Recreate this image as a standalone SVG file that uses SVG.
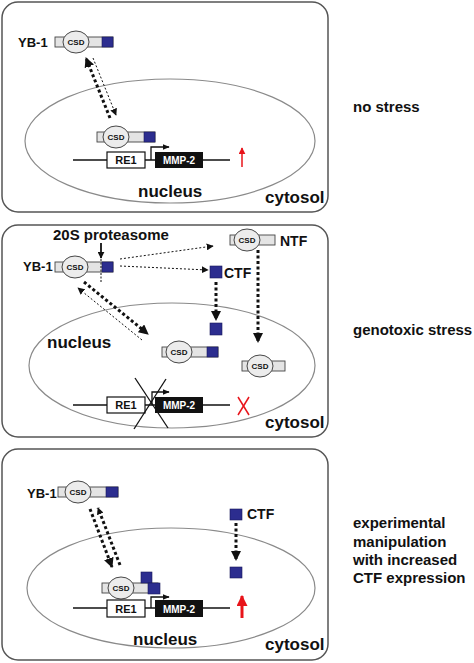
<svg xmlns="http://www.w3.org/2000/svg" width="474" height="663" viewBox="0 0 474 663">
<defs>
<style>
text{font-family:"Liberation Sans",Arial,sans-serif;font-weight:bold;fill:#111}
.panel{fill:#fff;stroke:#555;stroke-width:1.5}
.nuc{fill:none;stroke:#8a8a8a;stroke-width:1.2}
.bar{fill:#e4e4e4;stroke:#444;stroke-width:0.9}
.csd{fill:#ececec;stroke:#333;stroke-width:0.9}
.blue{fill:#2c2d8f;stroke:#1a1a5a;stroke-width:0.6}
.csdt{font-size:8px;text-anchor:middle}
.big{font-size:17px}
.lab{font-size:15px}
.thick{stroke:#111;stroke-width:3;stroke-dasharray:3 2.5;fill:none}
.thin{stroke:#111;stroke-width:1;stroke-dasharray:2 2;fill:none}
.dna{stroke:#111;stroke-width:1.6}
.re1{fill:#fff;stroke:#111;stroke-width:1.2}
.mmp{fill:#111}
.prom{fill:none;stroke:#111;stroke-width:1.3}
</style>
<marker id="hk" viewBox="0 0 10 10" refX="9" refY="5" markerUnits="userSpaceOnUse" markerWidth="10" markerHeight="10" orient="auto"><path d="M0,0L10,5L0,10z" fill="#111"/></marker>
<marker id="hs" viewBox="0 0 10 10" refX="9" refY="5" markerUnits="userSpaceOnUse" markerWidth="7" markerHeight="7" orient="auto"><path d="M0,0L10,5L0,10z" fill="#111"/></marker>
<marker id="hp" viewBox="0 0 10 10" refX="9" refY="5" markerUnits="userSpaceOnUse" markerWidth="7" markerHeight="7" orient="auto"><path d="M0,1L10,5L0,9z" fill="#111"/></marker>
<marker id="hr" viewBox="0 0 10 10" refX="9" refY="5" markerUnits="userSpaceOnUse" markerWidth="7" markerHeight="7" orient="auto"><path d="M0,0L10,5L0,10z" fill="#e8141a"/></marker>
<marker id="hr2" viewBox="0 0 10 10" refX="9" refY="5" markerUnits="userSpaceOnUse" markerWidth="11" markerHeight="11" orient="auto"><path d="M0,0L10,5L0,10z" fill="#e8141a"/></marker>
</defs>

<!-- Panel 1: no stress -->
<g id="panel1">
<rect class="panel" x="2" y="2" width="326" height="210" rx="16"/>
<ellipse id="nucleus1" class="nuc" cx="170" cy="141" rx="145" ry="62"/>
<text class="big" x="138" y="197">nucleus</text>
<text class="big" x="265" y="203">cytosol</text>
<text class="lab" x="353" y="112">no stress</text>
</g>
<g id="yb1-p1">
<text x="18" y="47" font-size="13">YB-1</text>
<rect class="bar" x="55" y="37" width="58" height="10"/>
<rect class="blue" x="102" y="37" width="11" height="10"/>
<ellipse class="csd" cx="76" cy="42" rx="13" ry="11"/>
<text class="csdt" x="76" y="45">CSD</text>
</g>
<g id="yb1-nuc-p1">
<rect class="bar" x="97" y="132" width="58" height="10"/>
<rect class="blue" x="144" y="132" width="11" height="10"/>
<ellipse class="csd" cx="116" cy="137" rx="13" ry="11"/>
<text class="csdt" x="116" y="140">CSD</text>
</g>
<g id="gene-p1">
<line class="dna" x1="73" y1="160" x2="230" y2="160"/>
<rect class="re1" x="107" y="152" width="38" height="16"/>
<text x="126" y="164" font-size="11" text-anchor="middle">RE1</text>
<rect class="mmp" x="155" y="152" width="48" height="16"/>
<text x="179" y="164" font-size="10" text-anchor="middle" style="fill:#fff">MMP-2</text>
<path class="prom" d="M151,160V147H169" marker-end="url(#hp)"/>
</g>
<g id="connectors-p1">
<line class="thick" x1="110" y1="118" x2="86" y2="58" marker-end="url(#hk)"/>
<line class="thin" x1="93" y1="58" x2="116" y2="115" marker-end="url(#hs)"/>
<line x1="242" y1="167" x2="242" y2="148" stroke="#e8141a" stroke-width="1.5" marker-end="url(#hr)"/>
</g>

<!-- Panel 2: genotoxic stress -->
<g id="panel2">
<rect class="panel" x="2" y="225" width="326" height="212" rx="16"/>
<ellipse id="nucleus2" class="nuc" cx="172" cy="365.5" rx="143" ry="62.5"/>
<text class="big" x="47" y="348">nucleus</text>
<text class="big" x="265" y="428">cytosol</text>
<text class="lab" x="353" y="335">genotoxic stress</text>
<text x="53" y="240" font-size="15">20S proteasome</text>
</g>
<g id="yb1-p2">
<text x="23" y="271" font-size="13">YB-1</text>
<rect class="bar" x="55" y="262" width="58" height="10"/>
<rect class="blue" x="102" y="262" width="11" height="10"/>
<ellipse class="csd" cx="75" cy="267" rx="13" ry="11"/>
<text class="csdt" x="75" y="270">CSD</text>
<line x1="101" y1="259" x2="101" y2="283" stroke="#111" stroke-width="1" stroke-dasharray="2 1.5"/>
</g>
<g id="ntf-p2">
<rect class="bar" x="230" y="235" width="45" height="10"/>
<ellipse class="csd" cx="247" cy="240" rx="13" ry="11"/>
<text class="csdt" x="247" y="243">CSD</text>
<text x="280" y="246" font-size="14">NTF</text>
</g>
<g id="ctf-p2">
<rect class="blue" x="210" y="266" width="12" height="12"/>
<text x="224" y="278" font-size="14">CTF</text>
</g>
<g id="ctf-nuc-p2">
<rect class="blue" x="210" y="323" width="12" height="12"/>
</g>
<g id="yb1-nuc-p2">
<rect class="bar" x="162" y="347" width="56" height="10"/>
<rect class="blue" x="207" y="347" width="11" height="10"/>
<ellipse class="csd" cx="179" cy="352" rx="13" ry="11"/>
<text class="csdt" x="179" y="355">CSD</text>
</g>
<g id="ntf-nuc-p2">
<rect class="bar" x="242" y="361" width="43" height="10"/>
<ellipse class="csd" cx="260" cy="366" rx="13" ry="11"/>
<text class="csdt" x="260" y="369">CSD</text>
</g>
<g id="gene-p2">
<line class="dna" x1="73" y1="405" x2="230" y2="405"/>
<rect class="re1" x="107" y="397" width="38" height="16"/>
<text x="126" y="409" font-size="11" text-anchor="middle">RE1</text>
<path class="prom" d="M152,405V392H169" marker-end="url(#hp)"/>
<rect class="mmp" x="155" y="397" width="48" height="16"/>
<text x="179" y="409" font-size="10" text-anchor="middle" style="fill:#fff">MMP-2</text>
<line x1="135" y1="378" x2="168" y2="428" stroke="#111" stroke-width="1.3"/>
<line x1="166" y1="379" x2="134" y2="429" stroke="#111" stroke-width="1.3"/>
<line x1="238" y1="397" x2="249" y2="415" stroke="#e8141a" stroke-width="1.5"/>
<line x1="249" y1="397" x2="238" y2="415" stroke="#e8141a" stroke-width="1.5"/>
</g>
<g id="connectors-p2">
<line x1="101" y1="243" x2="101" y2="258" stroke="#111" stroke-width="1.8" marker-end="url(#hs)"/>
<line class="thin" x1="120" y1="259" x2="213" y2="246" marker-end="url(#hs)"/>
<line class="thin" x1="120" y1="266" x2="208" y2="270" marker-end="url(#hs)"/>
<line class="thick" x1="216" y1="282" x2="216" y2="320" marker-end="url(#hk)"/>
<line class="thick" x1="258" y1="250" x2="258" y2="342" marker-end="url(#hk)"/>
<line class="thick" x1="84" y1="282" x2="148" y2="334" marker-end="url(#hk)"/>
<line class="thin" x1="142" y1="340" x2="78" y2="288" marker-end="url(#hs)"/>
</g>

<!-- Panel 3: experimental manipulation -->
<g id="panel3">
<rect class="panel" x="2" y="449" width="326" height="211" rx="16"/>
<ellipse id="nucleus3" class="nuc" cx="171" cy="588" rx="144" ry="60"/>
<text class="big" x="133" y="645">nucleus</text>
<text class="big" x="265" y="650">cytosol</text>
<text class="lab" x="353" y="528">experimental</text>
<text class="lab" x="353" y="547">manipulation</text>
<text class="lab" x="353" y="565">with increased</text>
<text class="lab" x="353" y="583">CTF expression</text>
</g>
<g id="yb1-p3">
<text x="27" y="498" font-size="13">YB-1</text>
<rect class="bar" x="58" y="487" width="60" height="10"/>
<rect class="blue" x="106" y="487" width="12" height="10"/>
<ellipse class="csd" cx="78" cy="492" rx="13" ry="11"/>
<text class="csdt" x="78" y="495">CSD</text>
</g>
<g id="ctf-p3">
<rect class="blue" x="230" y="509" width="12" height="11"/>
<text x="247" y="519" font-size="14">CTF</text>
</g>
<g id="ctf-nuc-p3">
<rect class="blue" x="230" y="567" width="12" height="11"/>
</g>
<g id="yb1-nuc-p3">
<rect class="bar" x="102" y="583" width="56" height="10"/>
<ellipse class="csd" cx="121" cy="588" rx="13" ry="11"/>
<text class="csdt" x="121" y="591">CSD</text>
<rect class="blue" x="141" y="572" width="11" height="11"/>
<rect class="blue" x="148" y="583" width="12" height="11"/>
</g>
<g id="gene-p3">
<line class="dna" x1="73" y1="608" x2="230" y2="608"/>
<rect class="re1" x="107" y="600" width="38" height="17"/>
<text x="126" y="613" font-size="11" text-anchor="middle">RE1</text>
<path class="prom" d="M151,608V597H169" marker-end="url(#hp)"/>
<rect class="mmp" x="155" y="600" width="48" height="17"/>
<text x="179" y="613" font-size="10" text-anchor="middle" style="fill:#fff">MMP-2</text>
</g>
<g id="connectors-p3">
<line class="thick" x1="90" y1="509" x2="112" y2="567" marker-end="url(#hk)"/>
<line class="thick" x1="120" y1="565" x2="98" y2="508" marker-end="url(#hs)"/>
<line class="thick" x1="236" y1="523" x2="236" y2="560" marker-end="url(#hk)"/>
<line x1="242" y1="618" x2="242" y2="596" stroke="#e8141a" stroke-width="3" marker-end="url(#hr2)"/>
</g>
</svg>
